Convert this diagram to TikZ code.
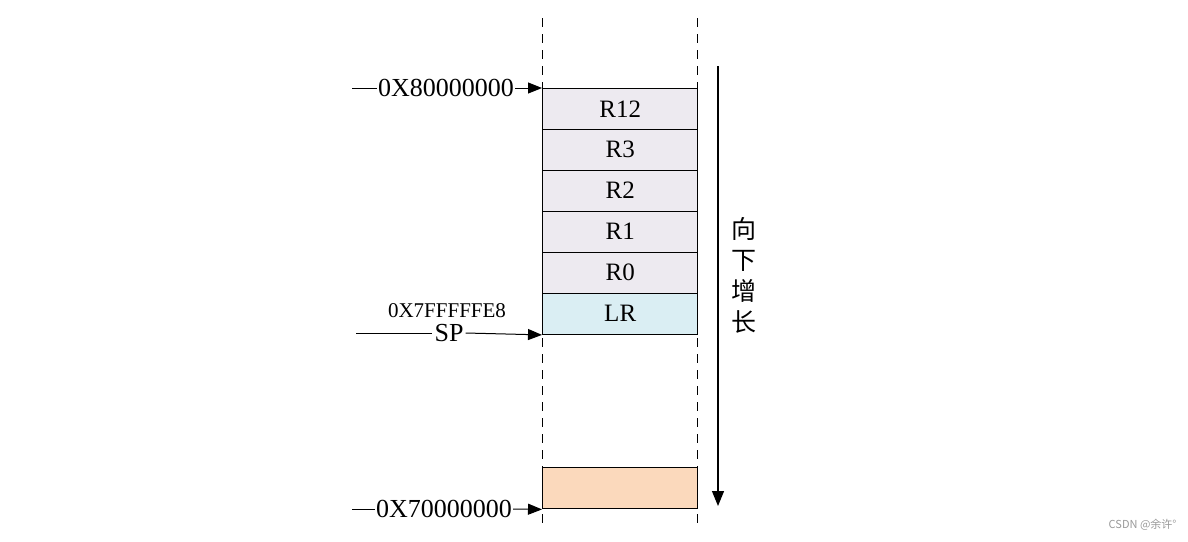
\documentclass[tikz,border=0pt]{standalone}
\usepackage{fontspec}
\setmainfont{Liberation Serif}
\newfontfamily\cjk{Noto Sans CJK SC}
\usetikzlibrary{arrows.meta}
\begin{document}
\begin{tikzpicture}[x=1pt,y=-1pt,
  cell/.style={draw,line width=1.4pt,minimum width=155pt,minimum height=41pt,inner sep=0pt,anchor=north west,font=\fontsize{25}{25}\selectfont},
  lbl/.style={inner sep=1pt,font=\fontsize{26}{26}\selectfont},
  arr/.style={line width=1pt,-{Triangle[length=14pt,width=11pt]}}]
\useasboundingbox (0,0) rectangle (1188,541);
\draw[dashed,line width=1pt,dash pattern=on 9pt off 7pt] (542,18) -- (542,527);
\draw[dashed,line width=1pt,dash pattern=on 9pt off 7pt] (697,18) -- (697,527);
\definecolor{cl}{HTML}{EDEAF0}
\definecolor{cb}{HTML}{DAEEF3}
\definecolor{co}{HTML}{FBD9BC}
\node[cell,fill=cl] (r12) at (542,88) {R12};
\node[cell,fill=cl] (r3) at (542,128.5) {R3};
\node[cell,fill=cl] (r2) at (542,169.5) {R2};
\node[cell,fill=cl] (r1) at (542,210.5) {R1};
\node[cell,fill=cl] (r0) at (542,251.5) {R0};
\node[cell,fill=cb] (lr) at (542,292.5) {LR};
\node[cell,fill=co] (bot) at (542,467) {};
% labels
\coordinate (a1) at (352,88);
\node[lbl] (t1) at (446,88) {0X80000000};
\draw[line width=1pt] (a1) -- (t1.west);
\draw[arr] (t1.east) -- (r12.north west);
\coordinate (a2) at (352,509);
\node[lbl] (t2) at (444,509) {0X70000000};
\draw[line width=1pt] (a2) -- (t2.west);
\draw[arr] (t2.east) -- (bot.south west);
\node[font=\fontsize{21}{21}\selectfont,inner sep=0pt] (t3) at (447,311) {0X7FFFFFE8};
\coordinate (a3) at (356,333);
\node[lbl,inner sep=2pt] (sp) at (449,333) {SP};
\draw[line width=1pt] (a3) -- (sp.west);
\draw[arr] (sp.east) -- (lr.south west);
% growth arrow
\coordinate (g1) at (718,66);
\coordinate (g2) at (718,506);
\draw[line width=1.2pt,-{Triangle[length=15pt,width=12pt]}] (g1) -- (g2);
\node[font=\cjk\fontsize{25}{25}\selectfont,align=center,inner sep=0pt] (gt) at (744,275)
  {向\\[6pt]下\\[6pt]增\\[6pt]长};
\node[font=\fontsize{11}{11}\selectfont\cjk,text=gray!80,anchor=east] (wm) at (1180,525) {CSDN @余许°};
\end{tikzpicture}
\end{document}
